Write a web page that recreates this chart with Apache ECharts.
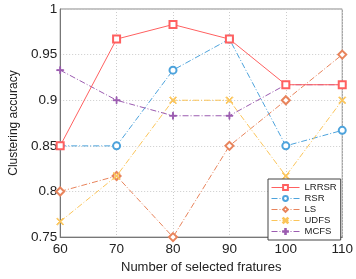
<!DOCTYPE html>
<html>
<head>
<meta charset="utf-8">
<script src="https://cdn.jsdelivr.net/npm/echarts@6/dist/echarts.min.js"></script>
<style>
html,body{margin:0;padding:0;background:#fff;}
#chart{width:356px;height:279px;}
</style>
</head>
<body>
<div id="chart"></div>
<script>
// 横轴：特征数
var features = [60, 70, 80, 90, 100, 110];
var xTicks = [60, 70, 80, 90, 100, 110];
var yTicks = [0.75, 0.8, 0.85, 0.9, 0.95, 1];
var names = ['LRRSR', 'RSR', 'LS', 'UDFS', 'MCFS'];
var lrrsr = [0.85, 0.967, 0.983, 0.967, 0.917, 0.917];
var rsr   = [0.85, 0.85, 0.933, 0.967, 0.85, 0.867];
var ls    = [0.8, 0.817, 0.75, 0.85, 0.9, 0.95];
var udfs  = [0.767, 0.817, 0.9, 0.9, 0.817, 0.9];
var mcfs  = [0.933, 0.9, 0.883, 0.883, 0.917, 0.917];

var xMark = 'path://M0,1 L1,0 L5,4 L9,0 L10,1 L6,5 L10,9 L9,10 L5,6 L1,10 L0,9 L4,5 Z';
var plusMark = 'path://M4.4,0 L5.6,0 L5.6,4.4 L10,4.4 L10,5.6 L5.6,5.6 L5.6,10 L4.4,10 L4.4,5.6 L0,5.6 L0,4.4 L4.4,4.4 Z';
var dashDot = [6, 2, 1, 2];
var font = 'Liberation Sans, Arial, sans-serif';

function pairs(vals){
	var out = [];
	for (var i = 0; i < features.length; i++) {
		out.push([features[i], vals[i]]);
	}
	return out;
}

function mkSeries(name, vals, color, symbol, size, dash){
	return {
		name: name,
		type: 'line',
		data: pairs(vals),
		symbol: symbol,
		symbolSize: size,
		showAllSymbol: true,
		animation: false,
		lineStyle: {color: color, width: 1, type: dash},
		itemStyle: {color: color, borderColor: color, borderWidth: 1}
	};
}

var myChart = echarts.init(document.getElementById('chart'));
var option = {
	animation: false,
	grid: {left: 48, right: 12, top: 9, bottom: 39, show: true, borderColor: '#888', borderWidth: 1},
	legend: {
		data: names,
		orient: 'vertical',
		left: 268,
		top: 179,
		itemWidth: 28,
		itemHeight: 6,
		itemGap: 0,
		padding: [3, 4, 3, 3],
		backgroundColor: '#fff',
		borderColor: '#444',
		borderWidth: 1,
		borderRadius: 0,
		lineStyle: {width: 1},
		textStyle: {fontFamily: font, fontSize: 9.5, lineHeight: 11, color: '#222'}
	},
	xAxis: {
		type: 'value',
		min: 60, max: 110, interval: 10,
		name: 'Number of selected fratures',
		nameLocation: 'middle',
		nameGap: 23,
		nameTextStyle: {fontFamily: font, fontSize: 13, color: '#222'},
		axisLine: {lineStyle: {color: '#777'}},
		axisTick: {show: false},
		axisLabel: {fontFamily: font, fontSize: 13.5, color: '#222', margin: 5,
			formatter: function(v){ return xTicks.indexOf(v) >= 0 ? String(v) : ''; }},
		splitLine: {show: true, lineStyle: {color: '#ccc', type: [1, 2]}}
	},
	yAxis: {
		type: 'value',
		min: 0.75, max: 1, interval: 0.05,
		name: 'Clustering accuracy',
		nameLocation: 'middle',
		nameGap: 37,
		nameTextStyle: {fontFamily: font, fontSize: 12, color: '#222'},
		axisLine: {show: true, lineStyle: {color: '#777'}},
		axisTick: {show: false},
		axisLabel: {fontFamily: font, fontSize: 13.5, color: '#222', margin: 3,
			formatter: function(v){
				var r = Math.round(v * 100) / 100;
				for (var i = 0; i < yTicks.length; i++) { if (Math.abs(yTicks[i] - r) < 1e-6) return String(yTicks[i]); }
				return '';
			}},
		splitLine: {show: true, lineStyle: {color: '#ccc', type: [1, 2]}}
	},
	series: [
		mkSeries(names[1], rsr, '#4da3dc', 'emptyCircle', 7, dashDot),
		mkSeries(names[2], ls, '#e8845c', 'emptyDiamond', 8, dashDot),
		mkSeries(names[3], udfs, '#fbc55a', xMark, 7, dashDot),
		mkSeries(names[4], mcfs, '#9b5bb0', plusMark, 7, dashDot),
		mkSeries(names[0], lrrsr, '#ff6060', 'emptyRect', 7, 'solid')
	]
};
myChart.setOption(option);
</script>
</body>
</html>
